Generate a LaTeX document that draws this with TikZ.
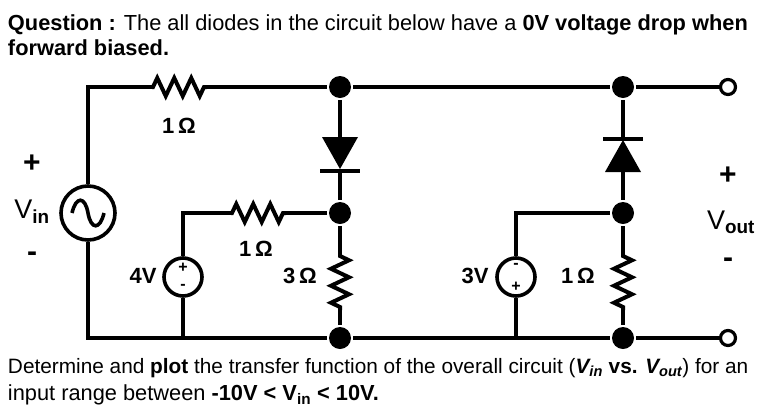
\documentclass[tikz,border=0pt]{standalone}
\usepackage{fontspec}
\setmainfont{Liberation Sans}
\usetikzlibrary{decorations.pathmorphing}
\begin{document}
\begin{tikzpicture}[x=1pt,y=-1pt,line width=4pt,
  res/.style={decorate,decoration={zigzag,segment length=17pt,amplitude=9pt,pre length=1pt,post length=1pt}},
  dot/.style={circle,fill=black,inner sep=0pt,minimum size=22pt},
  term/.style={circle,draw,fill=white,inner sep=0pt,minimum size=15pt,line width=3.2pt},
  src/.style={circle,draw,inner sep=0pt,line width=3.6pt},
  lbl/.style={font=\bfseries\fontsize{22}{24}\selectfont},
  txt/.style={font=\fontsize{21.8}{26}\selectfont,anchor=west,inner sep=0pt}]
\useasboundingbox (0,0) rectangle (764,416);
\node[txt] (t1) at (6,25) {\textbf{Question :} The all diodes in the circuit below have a \textbf{0V voltage drop when}};
\node[txt] (t2) at (6,48) {\textbf{forward biased.}};
\node[txt,font=\fontsize{20.8}{26}\selectfont] (t3) at (6,368) {Determine and \textbf{plot} the transfer function of the overall circuit (\textbf{\textit{V\textsubscript{in}} vs. \textit{V\textsubscript{out}}}) for an};
\node[txt] (t4) at (6,395) {input range between \textbf{-10V < V\textsubscript{in} < 10V.}};
% coordinates
\coordinate (tl) at (88,87); \coordinate (bl) at (88,338);
\node[src,minimum size=54pt] (vin) at (88,213) {};
\draw[line width=3.6pt] (72,213) .. controls (76,196) and (85,196) .. (88,213) .. controls (91,230) and (100,230) .. (104,213);
\node[dot] (a1) at (340,87) {}; \node[dot] (a2) at (340,213) {}; \node[dot] (a3) at (340,338) {};
\node[dot] (b1) at (623,87) {}; \node[dot] (b2) at (623,213) {}; \node[dot] (b3) at (623,338) {};
\node[term] (o1) at (728,87) {}; \node[term] (o2) at (728,338) {};
% top wire with resistor
\coordinate (r1a) at (152,87); \coordinate (r1b) at (207,87);
\draw (vin.north) -- (tl) -- (r1a);
\draw[res] (r1a) -- (r1b);
\draw (r1b) -- (a1) -- (b1) -- (o1);
\draw (vin.south) -- (bl) -- (a3) -- (b3) -- (o2);
% left diode down
\coordinate (d1t) at (340,137); \coordinate (d1b) at (340,170);
\draw (a1) -- (d1t); \draw (d1b) -- (a2);
\fill (322,137) -- (358,137) -- (340,169) -- cycle;
\draw (320,171) -- (360,171);
% 4V source branch
\node[src,minimum size=38pt] (s4) at (183,277) {};
\node[font=\bfseries\fontsize{16}{16}\selectfont] at (183,268) {+};
\node[font=\bfseries\fontsize{16}{16}\selectfont] at (183,287) {-};
\coordinate (c4) at (183,213); \coordinate (c4b) at (183,338);
\coordinate (r2a) at (231,213); \coordinate (r2b) at (286,213);
\draw (s4.north) -- (c4) -- (r2a); \draw[res] (r2a) -- (r2b); \draw (r2b) -- (a2);
\draw (s4.south) -- (c4b);
\coordinate (r3a) at (340,255); \coordinate (r3b) at (340,310);
\draw (a2) -- (r3a); \draw[res] (r3a) -- (r3b); \draw (r3b) -- (a3);
% right diode up
\coordinate (d2t) at (623,138); \coordinate (d2b) at (623,172);
\draw (b1) -- (d2t); \draw (d2b) -- (b2);
\fill (605,172) -- (641,172) -- (623,140) -- cycle;
\draw (603,139) -- (643,139);
% 3V source branch
\node[src,minimum size=38pt] (s3) at (516,277) {};
\node[font=\bfseries\fontsize{16}{16}\selectfont] at (516,266) {-};
\node[font=\bfseries\fontsize{16}{16}\selectfont] at (516,287) {+};
\coordinate (c3) at (516,213); \coordinate (c3b) at (516,338);
\draw (s3.north) -- (c3) -- (b2); \draw (s3.south) -- (c3b);
\coordinate (r4a) at (623,255); \coordinate (r4b) at (623,310);
\draw (b2) -- (r4a); \draw[res] (r4a) -- (r4b); \draw (r4b) -- (b3);
% labels
\node[lbl] at (179,126) {1\,Ω};
\node[lbl] at (256,249) {1\,Ω};
\node[lbl] at (300,276) {3\,Ω};
\node[lbl] at (578,276) {1\,Ω};
\node[lbl] at (143,276) {4V};
\node[lbl] at (475,276) {3V};
\node[lbl,font=\bfseries\fontsize{30}{30}\selectfont] at (32,164) {+};
\node[lbl,font=\fontsize{27}{27}\selectfont] at (32,212) {V\textsubscript{\textbf{in}}};
\node[lbl,font=\bfseries\fontsize{30}{30}\selectfont] at (32,257) {-};
\node[lbl,font=\bfseries\fontsize{30}{30}\selectfont] at (728,176) {+};
\node[lbl,font=\fontsize{27}{27}\selectfont] at (731,222) {V\textsubscript{\textbf{out}}};
\node[lbl,font=\bfseries\fontsize{30}{30}\selectfont] at (728,263) {-};
\end{tikzpicture}
\end{document}
